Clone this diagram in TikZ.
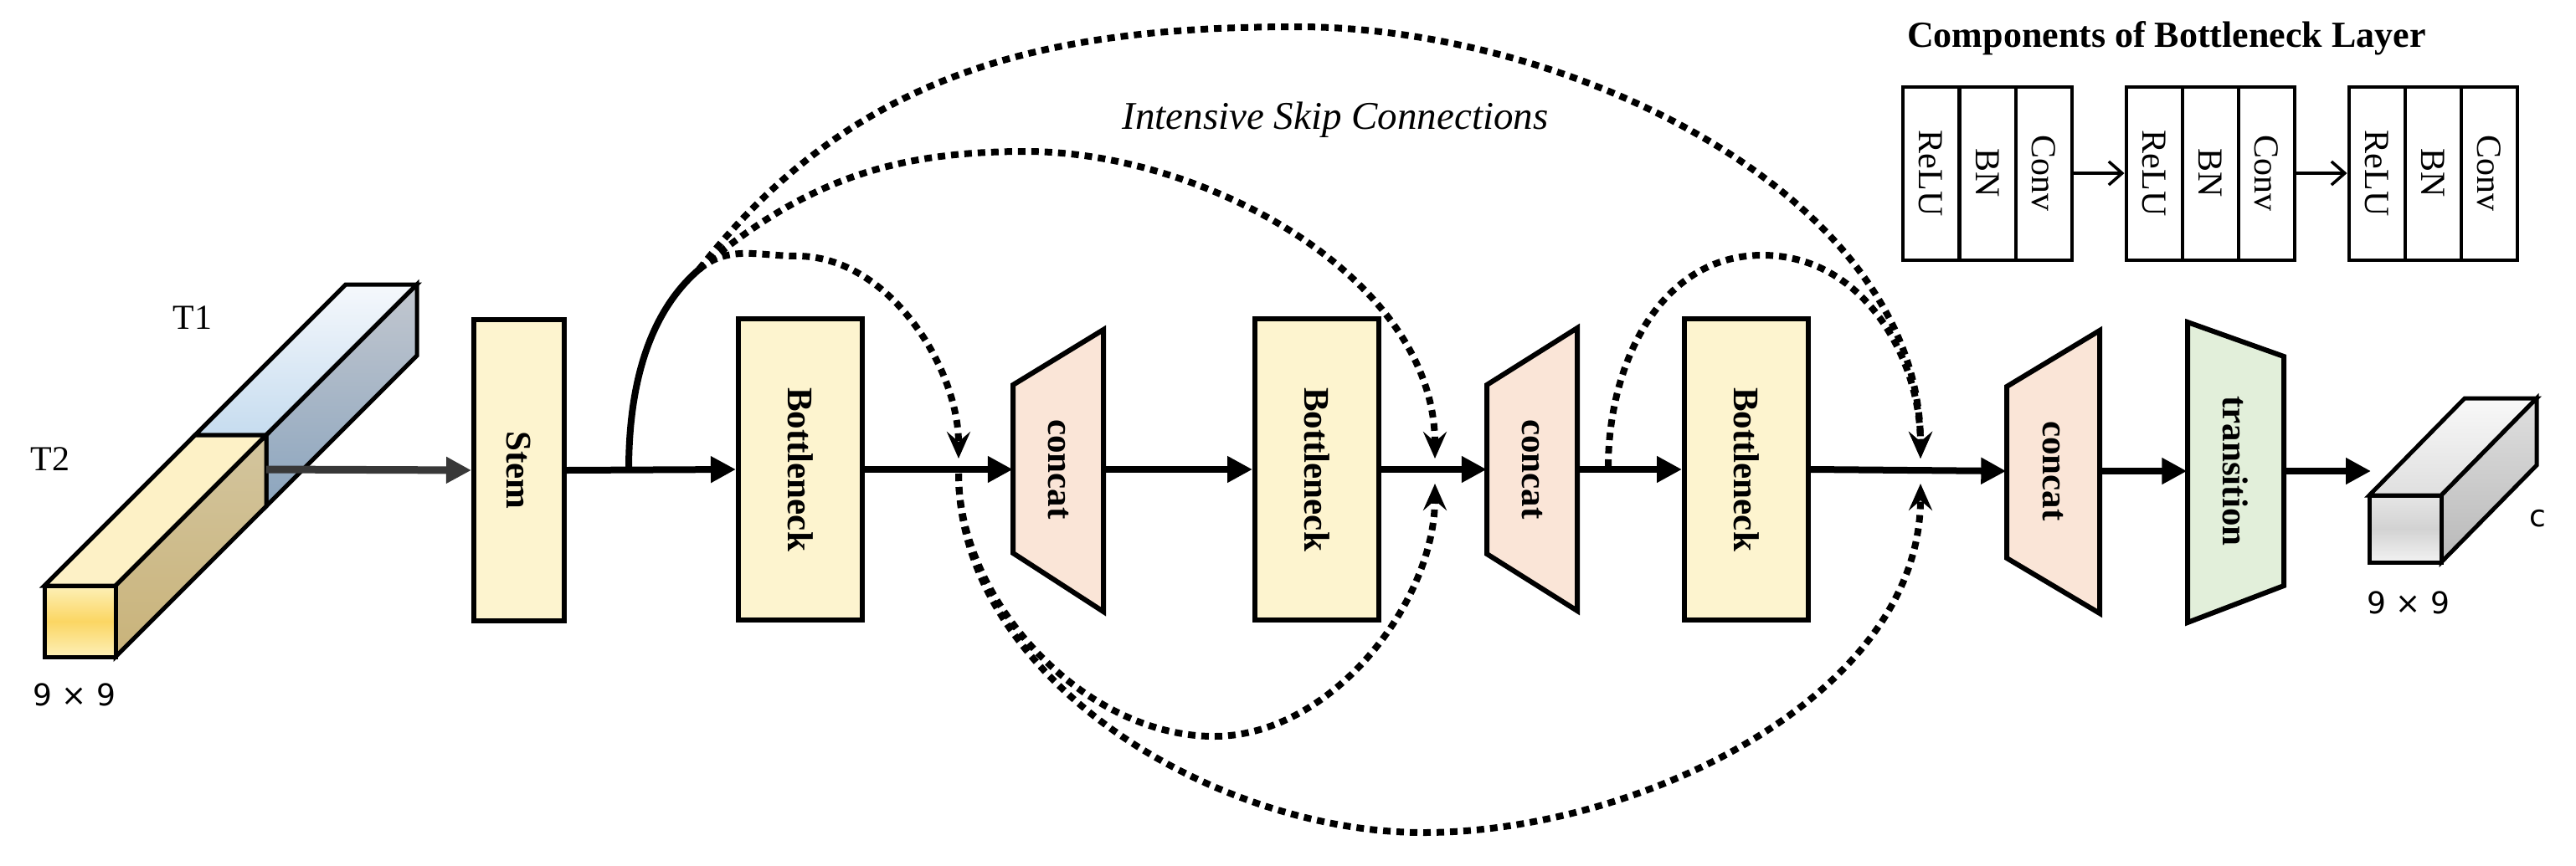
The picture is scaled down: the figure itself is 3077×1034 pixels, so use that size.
\documentclass[tikz,border=0pt]{standalone}
\usepackage{fontspec}
\setmainfont{Liberation Serif}
\newfontfamily\dejavu{DejaVu Sans}
\usepackage{graphicx}
\usetikzlibrary{arrows.meta}
\definecolor{yfill}{HTML}{FDF4CF}
\definecolor{cfill}{HTML}{FAE5D7}
\definecolor{tfill}{HTML}{E2EFDA}
\definecolor{t1top}{HTML}{C6DCEF}
\definecolor{t1topl}{HTML}{F5F8FC}
\definecolor{t1side}{HTML}{8CA5BE}
\definecolor{t1sidel}{HTML}{C2C7CF}
\definecolor{t2top}{HTML}{FDF1C6}
\definecolor{t2side}{HTML}{C9B37A}
\definecolor{t2sidel}{HTML}{D3C59E}
\definecolor{t2front}{HTML}{FBD663}
\definecolor{t2frontl}{HTML}{FDF0B8}
\tikzset{
  box/.style={draw, line width=6pt, fill=yfill, inner sep=0pt, minimum width=148pt, minimum height=360pt, font=\bfseries\fontsize{43}{48}\selectfont},
  ghost/.style={inner sep=0pt, font=\bfseries\fontsize{43}{48}\selectfont},
  trap/.style={draw, line width=6pt, line join=miter},
  main/.style={line width=8pt, -{Triangle[length=30pt,width=30pt]}},
  skip/.style={line width=8pt, dash pattern=on 9pt off 7pt, -{Stealth[length=32pt,width=28pt,inset=12pt]}},
  cell/.style={draw, line width=4pt, inner sep=0pt, minimum width=67pt, minimum height=207pt, font=\fontsize{42}{48}\selectfont},
  carrow/.style={line width=3.5pt, -{Straight Barb[length=16pt,width=28pt,line width=3.5pt]}},
  lab/.style={font=\fontsize{42}{48}\selectfont},
  slab/.style={font=\dejavu\fontsize{36}{40}\selectfont},
}
\begin{document}
\begin{tikzpicture}[x=1pt,y=-1pt]
\useasboundingbox (0,0) rectangle (3077,1034);
% input bar
\begin{scope}[line width=5pt, line join=miter]
\shade[top color=t1topl, bottom color=t1top] (233,520)--(318,520)--(498,340)--(413,340)--cycle;
\draw (233,520)--(318,520)--(498,340)--(413,340)--cycle;
\shade[top color=t1sidel, bottom color=t1side] (318,520)--(498,340)--(498,425)--(318,605)--cycle;
\draw (318,520)--(498,340)--(498,425)--(318,605)--cycle;
\fill[t2top] (53,700)--(138,700)--(318,520)--(233,520)--cycle;
\draw (53,700)--(138,700)--(318,520)--(233,520)--cycle;
\shade[top color=t2sidel, bottom color=t2side] (138,700)--(318,520)--(318,605)--(138,785)--cycle;
\draw (138,700)--(318,520)--(318,605)--(138,785)--cycle;
\shade[top color=t2frontl, bottom color=t2frontl, middle color=t2front] (53,700) rectangle (138,785);
\draw (53,700) rectangle (138,785);
\end{scope}
\node[lab] (t1) at (230,380) {T1};
\node[lab] (t2) at (60,549) {T2};
\node[slab] (s1) at (89,830) {9 × 9};
\coordinate (in) at (318,561);
% main blocks
\node[box, minimum width=108pt] (stem) at (620,562) {\rotatebox{-90}{Stem}};
\node[box] (b1) at (956,561) {\rotatebox{-90}{Bottleneck}};
\node[box] (b2) at (1573,561) {\rotatebox{-90}{Bottleneck}};
\node[box] (b3) at (2086,561) {\rotatebox{-90}{Bottleneck}};
% concat trapezoids
\fill[cfill] (1210,460)--(1318,394)--(1318,731)--(1210,661)--cycle;
\draw[trap] (1210,460)--(1318,394)--(1318,731)--(1210,661)--cycle;
\node[ghost, minimum width=108pt, minimum height=200pt] (c1) at (1264,561) {\rotatebox{-90}{concat}};
\fill[cfill] (1776,460)--(1884,392)--(1884,730)--(1776,662)--cycle;
\draw[trap] (1776,460)--(1884,392)--(1884,730)--(1776,662)--cycle;
\node[ghost, minimum width=108pt, minimum height=200pt] (c2) at (1830,561) {\rotatebox{-90}{concat}};
\fill[cfill] (2397,462)--(2508,395)--(2508,733)--(2397,667)--cycle;
\draw[trap] (2397,462)--(2508,395)--(2508,733)--(2397,667)--cycle;
\node[ghost, minimum width=111pt, minimum height=200pt] (c3) at (2452,563) {\rotatebox{-90}{concat}};
\fill[tfill] (2613,385)--(2728,426)--(2728,700)--(2613,744)--cycle;
\draw[trap] (2613,385)--(2728,426)--(2728,700)--(2613,744)--cycle;
\node[ghost, minimum width=115pt, minimum height=270pt] (tr) at (2670,563) {\rotatebox{-90}{transition}};
% output cube
\begin{scope}[line width=5pt, line join=miter]
\shade[top color=gray!5, bottom color=gray!25] (2830,592)--(2916,592)--(3030,476)--(2944,476)--cycle;
\draw (2830,592)--(2916,592)--(3030,476)--(2944,476)--cycle;
\shade[top color=gray!25, bottom color=gray!55] (2916,592)--(3030,476)--(3030,556)--(2916,672)--cycle;
\draw (2916,592)--(3030,476)--(3030,556)--(2916,672)--cycle;
\shade[top color=gray!20, bottom color=gray!10, middle color=gray!35] (2830,592) rectangle (2916,672);
\draw (2830,592) rectangle (2916,672);
\end{scope}
\coordinate (out) at (2832,563);
\node[slab] (c) at (3031,620) {c};
\node[slab] (s2) at (2877,720) {9 × 9};
% main arrows
\draw[main, draw=black!78, fill=black!78, line width=9pt] (in) -- (stem.west);
\draw[main] (stem.east) -- (b1.west);
\draw[main] (b1.east) -- (c1.west);
\draw[main] (c1.east) -- (b2.west);
\draw[main] (b2.east) -- (c2.west);
\draw[main] (c2.east) -- (b3.west);
\draw[main] (b3.east) -- (c3.west);
\draw[main] (c3.east) -- (tr.west);
\draw[main] (tr.east) -- (out);
% skip connections
\coordinate (s) at (751,562);
\coordinate (sj) at (835,322);
\coordinate (a1) at (1145,548);
\coordinate (a2) at (1714,548);
\coordinate (a3) at (2294,548);
\coordinate (u2) at (1714,578);
\coordinate (u3) at (2294,578);
\coordinate (d0) at (1145,566);
\coordinate (f0) at (1921,558);
\draw[line width=8pt] (s) .. controls (751,440) and (785,365) .. (sj);
\draw[skip] (sj) to[out=40,in=180] (952,306) to[out=0,in=90,looseness=0.9] (a1);
\draw[skip] (sj) to[out=40,in=180] (1225,181) to[out=0,in=90,looseness=0.9] (a2);
\draw[skip] (sj) to[out=52,in=180] (1550,32) to[out=0,in=90,looseness=0.9] (a3);
\draw[skip] (d0) to[out=-90,in=180,looseness=0.9] (1450,880) to[out=0,in=-90,looseness=0.9] (u2);
\draw[skip] (d0) to[out=-90,in=180,looseness=0.9] (1700,995) to[out=0,in=-90,looseness=0.9] (u3);
\draw[skip] (f0) to[out=90,in=180] (2105,305) to[out=0,in=90] (a3);
\node[font=\itshape\fontsize{47}{52}\selectfont] (isc) at (1595,143) {Intensive Skip Connections};
% components
\node[font=\bfseries\fontsize{44}{50}\selectfont] (ct) at (2588,46) {Components of Bottleneck Layer};
\node[cell] (r1) at (2306,207) {\rotatebox{-90}{ReLU}};
\node[cell] (n1) at (2374,207) {\rotatebox{-90}{BN}};
\node[cell] (v1) at (2441,207) {\rotatebox{-90}{Conv}};
\node[cell] (r2) at (2573,207) {\rotatebox{-90}{ReLU}};
\node[cell] (n2) at (2640,207) {\rotatebox{-90}{BN}};
\node[cell] (v2) at (2707,207) {\rotatebox{-90}{Conv}};
\node[cell] (r3) at (2839,207) {\rotatebox{-90}{ReLU}};
\node[cell] (n3) at (2906,207) {\rotatebox{-90}{BN}};
\node[cell] (v3) at (2973,207) {\rotatebox{-90}{Conv}};
\draw[carrow] (v1.east) -- (r2.west);
\draw[carrow] (v2.east) -- (r3.west);
\end{tikzpicture}
\end{document}
